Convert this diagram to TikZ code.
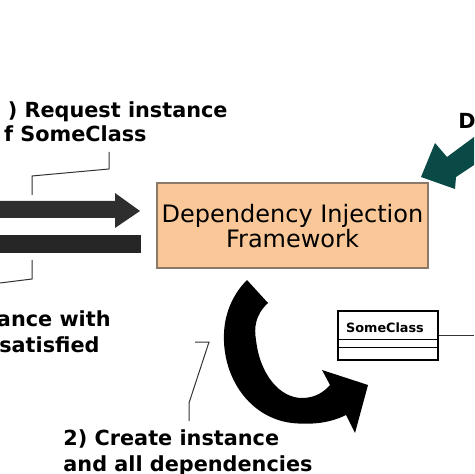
\documentclass[tikz,border=0pt]{standalone}
\usepackage{fontspec}
\setmainfont{DejaVu Sans}
\usepackage{tikz}
\usetikzlibrary{positioning}
\definecolor{peach}{RGB}{250,200,152}
\definecolor{peachline}{RGB}{140,122,104}
\definecolor{teal}{RGB}{10,74,70}
\tikzset{
  lbl/.style={inner sep=0pt, font=\fontsize{10.4}{12}\selectfont\bfseries},
  lead/.style={draw=black!80, line width=0.5pt},
  fw/.style={draw=peachline, fill=peach, line width=0.6pt, inner sep=0pt,
    minimum width=135.5pt, minimum height=42.5pt}}

\begin{document}
\begin{tikzpicture}[x=0.5pt, y=-0.5pt]
  \useasboundingbox (0,0) rectangle (474,474);
    \coordinate (1) at (109,152);
    \coordinate (2) at (109,169);
    \coordinate (3) at (32,176);
    \coordinate (4) at (32,195);
    \coordinate (5) at (32,260);
    \coordinate (6) at (32,279);
    \coordinate (7) at (0,283);
    \coordinate (8) at (195,342);
    \coordinate (9) at (209,342);
    \coordinate (10) at (189,403);
    \coordinate (11) at (189,421);
    \coordinate (e) at (474,335);
  % framework box
  \node [fw] (di) at (292.5,225.5) {};
  \node [inner sep=0pt, align=center, font=\fontsize{12}{12.5}\selectfont,
    anchor=base] (dit) at (292.5,248) {Dependency Injection\\Framework};
  % class box
  \node [draw, line width=1pt, minimum width=50pt, minimum height=24.5pt,
    inner sep=0pt] (sc) at (387.5,335.5) {};
  \draw [line width=0.5pt] (337,339) -- (438,339);
  \draw [line width=0.5pt] (337,347) -- (438,347);
  \node [inner sep=0pt, font=\fontsize{6.4}{8}\selectfont\bfseries, anchor=base]
    (scn) at (385,332) {SomeClass};
  \draw [line width=0.5pt, black!80] (sc.east |- e) -- (e);
  % labels
  \node [lbl, anchor=base east] (r1) at (228,118) {) Request instance};
  \node [lbl, anchor=base east] (r2) at (147,142) {f SomeClass};
  \node [lbl, anchor=base east] (s1) at (111,327) {ance with};
  \node [lbl, anchor=base east] (s2) at (100,352) {satisfied};
  \node [lbl, anchor=base west] (c1) at (63,445) {2) Create instance};
  \node [lbl, anchor=base west] (c2) at (63,471) {and all dependencies};
  \node [lbl, anchor=base west] (d) at (458,129) {D};
  % leader lines
  \draw [lead] (1) -- (2) -- (3) -- (4);
  \draw [lead] (5) -- (6) -- (7);
  \draw [lead] (8) -- (9) -- (10) -- (11);
  % request / return arrows
  \fill [black!82] (0,201) -- (115,201) -- (115,193) -- (140,211)
    -- (115,228) -- (115,218) -- (0,218) -- cycle;
  \fill [black!85] (0,235) rectangle (141,253);
  % injection arrow
  \fill [teal] (474,137) -- (447,157) -- (435,143) -- (421,177)
    -- (455,189) -- (456,177) -- (474,165) -- cycle;
  % create arrow
  \fill [black] (247,280) -- (268,303)
    .. controls (255,315) and (254,328) .. (256,340)
    .. controls (260,375) and (280,398) .. (302,398)
    .. controls (315,398) and (324,392) .. (330,385)
    -- (322,370) -- (368,385) -- (355,433) -- (346,415)
    .. controls (330,423) and (312,425) .. (292,423)
    .. controls (250,418) and (222,378) .. (224,333)
    .. controls (225,310) and (235,292) .. (247,280) -- cycle;
\end{tikzpicture}
\end{document}
